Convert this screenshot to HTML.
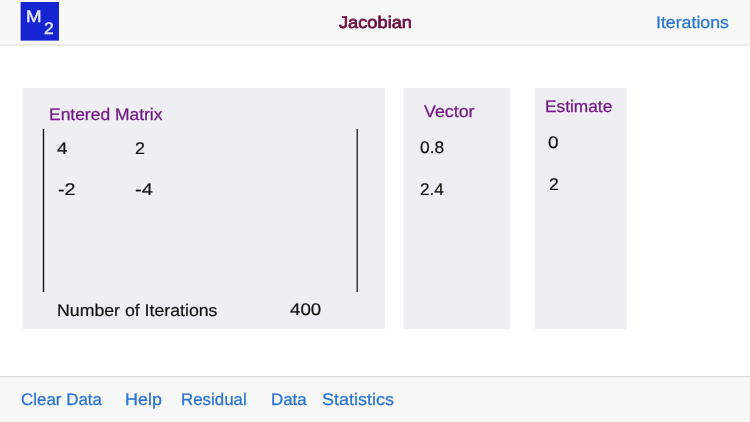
<!DOCTYPE html>
<html><head><meta charset="utf-8">
<style>
*{margin:0;padding:0;box-sizing:border-box}
html,body{width:750px;height:422px;overflow:hidden;background:#fff;font-family:"Liberation Sans",sans-serif}
.t{position:absolute;white-space:nowrap;line-height:1;transform-origin:0 0;will-change:transform;text-rendering:geometricPrecision}
svg.bg{position:absolute;left:0;top:0}
</style></head><body>
<svg class="bg" width="750" height="422" viewBox="0 0 750 422">
<rect x="0" y="0" width="750" height="45" fill="#f8f8f8"/>
<rect x="0" y="44.6" width="750" height="1" fill="#d9d9d9"/>
<rect x="0" y="376.6" width="750" height="46" fill="#f8f8f8"/>
<rect x="0" y="376.1" width="750" height="1" fill="#d9d9d9"/>
<rect x="20.6" y="2" width="38.4" height="38.6" fill="#1624d2"/>
<rect x="22.6" y="88.1" width="362.3" height="240.8" fill="#efeef4"/>
<rect x="403.5" y="88.1" width="106.8" height="240.8" fill="#efeef4"/>
<rect x="534.8" y="88.1" width="91.9" height="240.8" fill="#efeef4"/>
<rect x="42.8" y="129" width="1.4" height="163.1" fill="#141414"/>
<rect x="356.5" y="129" width="1.4" height="163.1" fill="#2a2a2a"/>
</svg>
<div class="t" id="logoM" style="left:26.45px;top:8.93px;font-size:16.8px;color:#e4e6fb;-webkit-text-stroke:0.45px #e4e6fb;transform:scaleX(1.1153);">M</div>
<div class="t" id="logo2" style="left:43.61px;top:20.64px;font-size:16.6px;color:#e4e6fb;-webkit-text-stroke:0.45px #e4e6fb;transform:scaleX(1.0535);">2</div>
<div class="t" id="jac" style="left:339.30px;top:14.56px;font-size:16.8px;color:#6a0e3e;-webkit-text-stroke:0.7px #6a0e3e;transform:scaleX(1.0864);">Jacobian</div>
<div class="t" id="iter" style="left:655.70px;top:15.39px;font-size:16.8px;color:#2a74d2;-webkit-text-stroke:0.28px #2a74d2;transform:scaleX(1.0567);">Iterations</div>
<div class="t" id="ent" style="left:49.03px;top:106.75px;font-size:16.8px;color:#721884;-webkit-text-stroke:0.25px #721884;transform:scaleX(1.0391);">Entered Matrix</div>
<div class="t" id="m11" style="left:57.28px;top:141.40px;font-size:16.8px;color:#111111;-webkit-text-stroke:0.2px #111111;transform:scaleX(1.1234);">4</div>
<div class="t" id="m12" style="left:135.25px;top:141.44px;font-size:16.8px;color:#111111;-webkit-text-stroke:0.2px #111111;transform:scaleX(1.0651);">2</div>
<div class="t" id="m21" style="left:57.69px;top:182.39px;font-size:16.8px;color:#111111;-webkit-text-stroke:0.2px #111111;transform:scaleX(1.1733);">-2</div>
<div class="t" id="m22" style="left:135.08px;top:182.24px;font-size:16.8px;color:#111111;-webkit-text-stroke:0.2px #111111;transform:scaleX(1.1902);">-4</div>
<div class="t" id="noi" style="left:57.10px;top:302.54px;font-size:16.8px;color:#111111;-webkit-text-stroke:0.2px #111111;transform:scaleX(1.0554);">Number of Iterations</div>
<div class="t" id="n400" style="left:289.92px;top:302.46px;font-size:16.8px;color:#111111;-webkit-text-stroke:0.2px #111111;transform:scaleX(1.1162);">400</div>
<div class="t" id="vec" style="left:424.40px;top:104.17px;font-size:16.8px;color:#721884;-webkit-text-stroke:0.25px #721884;transform:scaleX(1.0627);">Vector</div>
<div class="t" id="v1" style="left:420.46px;top:140.19px;font-size:16.8px;color:#111111;-webkit-text-stroke:0.2px #111111;transform:scaleX(1.0329);">0.8</div>
<div class="t" id="v2" style="left:420.17px;top:182.43px;font-size:16.8px;color:#111111;-webkit-text-stroke:0.2px #111111;transform:scaleX(1.0239);">2.4</div>
<div class="t" id="est" style="left:545.27px;top:99.07px;font-size:16.8px;color:#721884;-webkit-text-stroke:0.25px #721884;transform:scaleX(1.0300);">Estimate</div>
<div class="t" id="e1" style="left:548.15px;top:135.45px;font-size:16.8px;color:#111111;-webkit-text-stroke:0.2px #111111;transform:scaleX(1.1327);">0</div>
<div class="t" id="e2" style="left:548.68px;top:177.28px;font-size:16.8px;color:#111111;-webkit-text-stroke:0.2px #111111;transform:scaleX(1.0487);">2</div>
<div class="t" id="clr" style="left:20.65px;top:392.35px;font-size:16.8px;color:#2a74d2;-webkit-text-stroke:0.28px #2a74d2;transform:scaleX(1.0094);">Clear Data</div>
<div class="t" id="help" style="left:125.21px;top:392.01px;font-size:16.8px;color:#2a74d2;-webkit-text-stroke:0.28px #2a74d2;transform:scaleX(1.0710);">Help</div>
<div class="t" id="res" style="left:180.94px;top:392.28px;font-size:16.8px;color:#2a74d2;-webkit-text-stroke:0.28px #2a74d2;transform:scaleX(1.0062);">Residual</div>
<div class="t" id="data" style="left:270.71px;top:392.27px;font-size:16.8px;color:#2a74d2;-webkit-text-stroke:0.28px #2a74d2;transform:scaleX(1.0073);">Data</div>
<div class="t" id="stat" style="left:321.85px;top:392.01px;font-size:16.8px;color:#2a74d2;-webkit-text-stroke:0.28px #2a74d2;transform:scaleX(1.0705);">Statistics</div>
</body></html>
